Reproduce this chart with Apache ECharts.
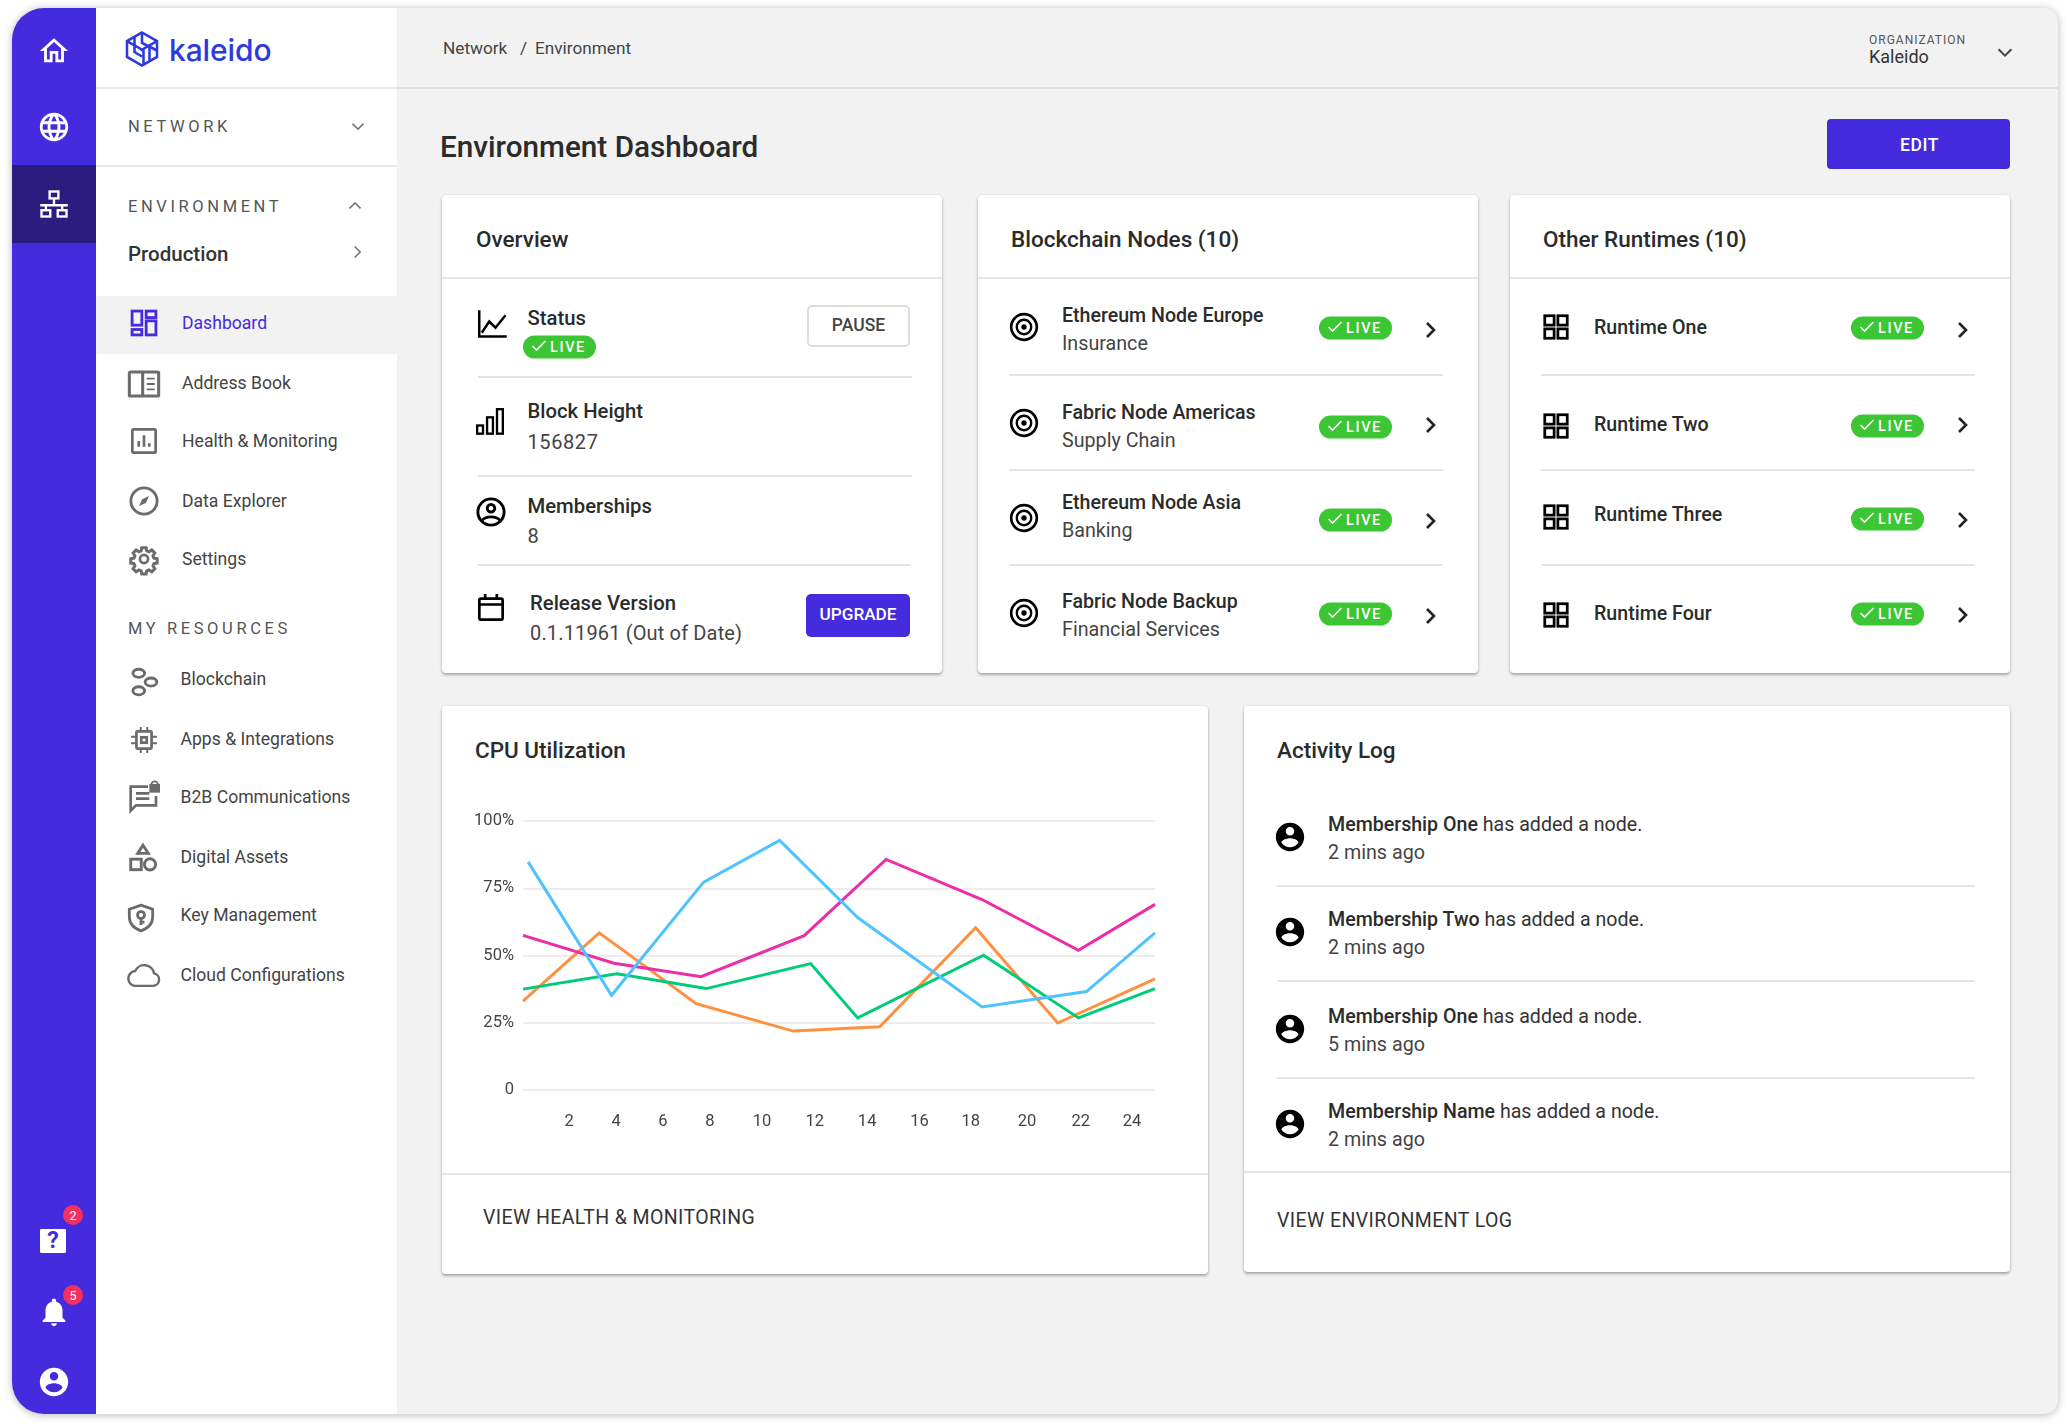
<!DOCTYPE html>
<html lang="en">
<head>
<meta charset="UTF-8">
<title>Environment Dashboard</title>
<script src="https://cdn.jsdelivr.net/npm/echarts@6/dist/echarts.min.js"></script>
<style>
html,body{margin:0;padding:0;background:#fff;width:2068px;height:1427px;overflow:hidden;font-family:Roboto,sans-serif;color:#222}
#frame{position:absolute;left:12px;top:8px;width:2046px;height:1406px;background:#f2f2f2;border-radius:32px 14px 14px 32px;overflow:hidden;box-shadow:0 1px 8px rgba(0,0,0,.28)}
.abs{position:absolute}
.t{position:absolute;white-space:nowrap;transform:translateY(-50%);line-height:1.2}
.card{position:absolute;background:#fff;border-radius:4px;box-shadow:0 2px 3px rgba(0,0,0,.3),0 0 3px rgba(0,0,0,.08)}
.hr{position:absolute;height:2px;background:#e4e4e4}
.pill{position:absolute;width:73px;height:23px;border-radius:12px;background:#3cc634;color:#fff;font-size:14.5px;font-weight:500;letter-spacing:1.6px;line-height:23px;transform:translateY(-50%)}
.pill svg{position:absolute;left:8px;top:2px}
.pill span{position:absolute;left:27px;top:0}
svg.ic{position:absolute;transform:translate(-50%,-50%);overflow:visible}
#cpuChart{position:absolute;left:442px;top:780px;width:766px;height:380px}
</style>
</head>
<body>
<div id="frame"></div>
<div id="page"></div>
<div id="cpuChart"></div>

<script>
// chart data
var yTicks = [0, 25, 50, 75, 100];
var xTickLabels = ['2', '4', '6', '8', '10', '12', '14', '16', '18', '20', '22', '24'];
var xTickPos = [2, 3.84, 5.67, 7.5, 9.54, 11.6, 13.65, 15.7, 17.7, 19.9, 22, 24];

var blueX = [0.4, 3.66, 7.26, 10.23, 13.28, 18.14, 22.22, 24.9];
var blueY = [84.8, 35.2, 77.3, 92.8, 64.1, 30.9, 36.6, 58.4];
var pinkX = [0.2, 3.76, 7.16, 11.19, 14.39, 18.14, 21.91, 24.9];
var pinkY = [57.5, 47.1, 42.1, 57.4, 85.7, 70.8, 51.9, 69.0];
var orangeX = [0.2, 3.18, 6.97, 10.76, 14.14, 17.89, 21.1, 24.9];
var orangeY = [33.0, 58.4, 32.1, 21.9, 23.5, 60.3, 24.9, 41.3];
var greenX = [0.2, 3.86, 7.36, 11.44, 13.28, 18.2, 21.91, 24.9];
var greenY = [37.5, 43.2, 37.7, 47.0, 26.8, 50.1, 26.8, 37.7];

// page text
var networkItems = ['Dashboard', 'Address Book', 'Health & Monitoring', 'Data Explorer', 'Settings'];
var resourceItems = ['Blockchain', 'Apps & Integrations', 'B2B Communications', 'Digital Assets', 'Key Management', 'Cloud Configurations'];
var nodeNames = ['Ethereum Node Europe', 'Fabric Node Americas', 'Ethereum Node Asia', 'Fabric Node Backup'];
var nodeTypes = ['Insurance', 'Supply Chain', 'Banking', 'Financial Services'];
var runtimeNames = ['Runtime One', 'Runtime Two', 'Runtime Three', 'Runtime Four'];
var logNames = ['Membership One', 'Membership Two', 'Membership One', 'Membership Name'];
var logTimes = ['2 mins ago', '2 mins ago', '5 mins ago', '2 mins ago'];

var page = document.getElementById('page');
var PURPLE = '#452bde', GREY = '#6b6b6b';

function box(x, y, w, h, css) {
    var d = document.createElement('div');
    d.className = 'abs';
    d.style.cssText = 'left:' + x + 'px;top:' + y + 'px;width:' + w + 'px;height:' + h + 'px;' + (css || '');
    page.appendChild(d);
    return d;
}
function text(x, y, s, css) {
    var d = document.createElement('div');
    d.className = 't';
    d.style.cssText = 'left:' + x + 'px;top:' + y + 'px;' + (css || '');
    d.textContent = s;
    page.appendChild(d);
    return d;
}
function line(x1, x2, y) {
    var d = document.createElement('div');
    d.className = 'hr';
    d.style.cssText = 'left:' + x1 + 'px;top:' + y + 'px;width:' + (x2 - x1) + 'px';
    page.appendChild(d);
}
function card(x, y, w, h) {
    var d = document.createElement('div');
    d.className = 'card';
    d.style.cssText = 'left:' + x + 'px;top:' + y + 'px;width:' + w + 'px;height:' + h + 'px';
    page.appendChild(d);
}
function icon(cx, cy, size, color, inner, vb, sw) {
    var wrap = document.createElement('div');
    wrap.innerHTML = '<svg class="ic" style="left:' + cx + 'px;top:' + cy + 'px" width="' + size + '" height="' + size +
        '" viewBox="' + (vb || '0 0 24 24') + '" fill="none" stroke="' + color + '" stroke-width="' + (sw || 2.3) + '">' + inner + '</svg>';
    page.appendChild(wrap.firstChild);
}
function fillPath(d, c) { return '<path stroke="none" fill="' + c + '" d="' + d + '"/>'; }
function pill(x, y) {
    var d = document.createElement('div');
    d.className = 'pill';
    d.style.left = x + 'px';
    d.style.top = y + 'px';
    d.innerHTML = '<svg width="16" height="16" viewBox="0 0 16 16" fill="none" stroke="#fff" stroke-width="1.6"><path d="M1.5 8.5l4 4 9-9"/></svg><span>LIVE</span>';
    page.appendChild(d);
}
function chevron(x, y, dir, size, color, sw) {
    var p = { r: 'M9 5l7 7-7 7', d: 'M5 9l7 7 7-7', u: 'M5 15l7-7 7 7' }[dir];
    icon(x, y, size, color, '<path d="' + p + '"/>', null, sw);
}

var HOME = 'M12 5.69l5 4.5V18h-2v-6H9v6H7v-7.81l5-4.5M12 3L2 12h3v8h6v-6h2v6h6v-8h3L12 3z';
var BELL = 'M12 22c1.1 0 2-.9 2-2h-4c0 1.1.9 2 2 2zm6-6v-5c0-3.07-1.63-5.64-4.5-6.32V4c0-.83-.67-1.5-1.5-1.5s-1.5.67-1.5 1.5v.68C7.64 5.36 6 7.92 6 11v5l-2 2v1h16v-1l-2-2z';
var USER = 'M12 2C6.48 2 2 6.48 2 12s4.48 10 10 10 10-4.48 10-10S17.52 2 12 2zm0 3c1.66 0 3 1.34 3 3s-1.34 3-3 3-3-1.34-3-3 1.34-3 3-3zm0 14.2c-2.5 0-4.71-1.28-6-3.22.03-1.99 4-3.08 6-3.08 1.99 0 5.97 1.09 6 3.08-1.29 1.94-3.5 3.22-6 3.22z';
var GLOBE = 'M11.99 2C6.47 2 2 6.48 2 12s4.47 10 9.99 10C17.52 22 22 17.52 22 12S17.52 2 11.99 2zm6.93 6h-2.95c-.32-1.25-.78-2.45-1.38-3.56 1.84.63 3.37 1.91 4.33 3.56zM12 4.04c.83 1.2 1.48 2.53 1.91 3.96h-3.82c.43-1.43 1.08-2.76 1.91-3.96zM4.26 14C4.1 13.36 4 12.69 4 12s.1-1.36.26-2h3.38c-.08.66-.14 1.32-.14 2 0 .68.06 1.34.14 2H4.26zm.82 2h2.95c.32 1.25.78 2.45 1.38 3.56-1.84-.63-3.37-1.9-4.33-3.56zm2.95-8H5.08c.96-1.66 2.49-2.93 4.33-3.56C8.81 5.55 8.35 6.75 8.03 8zM12 19.96c-.83-1.2-1.48-2.53-1.91-3.96h3.82c-.43 1.43-1.08 2.76-1.91 3.96zM14.34 14H9.66c-.09-.66-.16-1.32-.16-2 0-.68.07-1.35.16-2h4.68c.09.65.16 1.32.16 2 0 .68-.07 1.34-.16 2zm.25 5.56c.6-1.11 1.06-2.31 1.38-3.56h2.95c-.96 1.65-2.49 2.93-4.33 3.56zM16.36 14c.08-.66.14-1.32.14-2 0-.68-.06-1.34-.14-2h3.38c.16.64.26 1.31.26 2s-.1 1.36-.26 2h-3.38z';
var GRID = '<rect x="3" y="3" width="7.5" height="7.5"/><rect x="13.5" y="3" width="7.5" height="7.5"/><rect x="3" y="13.5" width="7.5" height="7.5"/><rect x="13.5" y="13.5" width="7.5" height="7.5"/>';
var TARGET = '<circle cx="12" cy="12" r="10.6" stroke-width="2.2"/><circle cx="12" cy="12" r="6" stroke-width="1.9"/><circle cx="12" cy="12" r="2.2" fill="#000" stroke="none"/>';

// rail + side panel
box(12, 8, 84, 1406, 'background:' + PURPLE + ';border-radius:32px 0 0 32px');
box(12, 165, 84, 78, 'background:#2d1c80');
box(96, 8, 301, 1406, 'background:#fff');
box(96, 87, 301, 2, 'background:#e8e8e8');
box(397, 87, 1661, 2, 'background:#dedede');
box(96, 165, 301, 2, 'background:#e8e8e8');
box(96, 296, 301, 58, 'background:#f2f2f2');

icon(54, 51, 34, '#fff', fillPath(HOME, '#fff'));
icon(54, 127, 34, '#fff', fillPath(GLOBE, '#fff'));
icon(54, 204, 30, '#fff', '<rect x="8.5" y="2" width="7" height="5.5"/><path d="M12 7.5v5M1 13h22M5.5 13v3.5M18.5 13v3.5"/><rect x="2" y="17" width="7" height="5"/><rect x="15" y="17" width="7" height="5"/>', null, 1.9);
icon(53, 1241, 26, '#fff', '<rect x="0" y="1" width="24" height="22" rx="1" fill="#fff" stroke="none"/>');
text(53, 1241, '?', 'transform:translate(-50%,-50%);font-size:23px;font-weight:700;color:' + PURPLE);
box(63, 1205, 20, 20, 'background:#f5305f;border-radius:10px');
text(73, 1215, '2', 'transform:translate(-50%,-50%);font-size:12.5px;color:#fff');
icon(54, 1312, 34, '#fff', fillPath(BELL, '#fff'));
box(63, 1285, 20, 20, 'background:#f5305f;border-radius:10px');
text(73, 1295, '5', 'transform:translate(-50%,-50%);font-size:12.5px;color:#fff');
icon(54, 1382, 34, '#fff', fillPath(USER, '#fff'));

// logo
icon(142, 49, 36, '#2b3be0', '<path d="M12 1l10 5.7v10.6L12 23 2 17.3V6.7z"/><path d="M2 6.7l11 6.3v10M22 6.7L11 13M12 1v7l10 5M7 4v10l5 3M17 20v-9"/>', null, 1.7);
text(169, 50, 'kaleido', 'font-family:Inter,sans-serif;font-size:30px;font-weight:500;color:#2b3be0;letter-spacing:-.1px');

var labelCss = 'font-size:16.5px;letter-spacing:3.6px;color:#555';
text(128, 127, 'NETWORK', labelCss);
chevron(358, 126, 'd', 19, '#777', 2);
text(128, 207, 'ENVIRONMENT', labelCss);
chevron(355, 206, 'u', 19, '#777', 2);
text(128, 254, 'Production', 'font-size:20.5px;font-weight:500;color:#333');
chevron(357, 252, 'r', 19, '#777', 2);
text(128, 629, 'MY RESOURCES', labelCss);

var netY = [324, 384, 442, 502, 560];
networkItems.forEach(function (s, i) {
    text(182, netY[i], s, 'font-size:17.6px;color:' + (i === 0 ? PURPLE : '#444'));
});
var resY = [680, 740, 798, 858, 916, 976];
resourceItems.forEach(function (s, i) {
    text(180.5, resY[i], s, 'font-size:17.6px;color:#444');
});

icon(144, 323, 26, PURPLE, '<rect x="1" y="1" width="9" height="13"/><rect x="14" y="1" width="9" height="6"/><rect x="1" y="18" width="9" height="5"/><rect x="14" y="10" width="9" height="13"/>', null, 2.6);
icon(144, 384, 32, GREY, '<rect x="1" y="3" width="22" height="18" rx="1"/><path d="M11 3v18"/><path d="M14 8h6M14 12h6M14 16h6" stroke-width="1.4"/>');
icon(144, 441, 28, GREY, '<rect x="2" y="2" width="20" height="20" rx="1"/><path d="M7.5 17v-5M12 17V7M16.5 17v-3"/>');
icon(144, 501, 30, GREY, '<circle cx="12" cy="12" r="10.5"/><path d="M16 8l-2.5 5.500L8 16l2.500-5.500z" fill="' + GREY + '" stroke="none"/>');
icon(144, 559, 28, GREY, '<circle cx="12" cy="12" r="3.5"/><path d="M10 1.5h4l.6 3 2.100.9 2.600-1.700 2.800 2.800-1.700 2.600.9 2.100 3 .6v4l-3 .6-.9 2.100 1.700 2.600-2.800 2.800-2.600-1.700-2.100.9-.6 3h-4l-.6-3-2.100-.9-2.600 1.700-2.800-2.800 1.700-2.600-.9-2.100-3-.6v-4l3-.6.9-2.100-1.700-2.600 2.800-2.800 2.600 1.700 2.100-.9z" transform="scale(.92) translate(1 1)" stroke-width="2.8"/>');

icon(144, 682, 28, GREY, '<ellipse cx="7.5" cy="4.5" rx="5" ry="3.5"/><ellipse cx="7.5" cy="19.500" rx="5" ry="3.5"/><ellipse cx="18" cy="12" rx="5" ry="3.5"/>', null, 2.5);
icon(144, 740, 26, GREY, '<rect x="5" y="4" width="14" height="16" rx="1"/><rect x="9.5" y="9.5" width="5" height="5"/><path d="M0 9h5M0 15h5M19 9h5M19 15h5M9 0v4M15 0v4M9 20v4M15 20v4" stroke-width="1.8"/>', null, 2.5);
icon(144, 796, 32, GREY, '<path d="M15 5H2v18l4-4h15v-7"/><path d="M6 10h10M6 14h10"/><rect x="16" y="3" width="8" height="6.5" fill="' + GREY + '" stroke="none"/><path d="M17.5 3.5a2.5 2.5 0 015 0" stroke-width="1.4"/>', null, 2);
icon(143, 858, 28, GREY, '<path d="M12 1l4.5 7h-9z"/><rect x="1.5" y="13" width="9" height="9"/><circle cx="18" cy="17.5" r="4.8"/>', null, 2.5);
icon(141, 918, 28, GREY, '<path d="M12 1l10 3.5V11c0 6-4 10-10 12C6 21 2 17 2 11V4.500z"/><circle cx="12" cy="9.5" r="3"/><path d="M12 12.5V18M12 15.5h3"/>', null, 2.4);
icon(143, 976, 34, GREY, '<path d="M6 19h13a4.5 4.5 0 00.8-8.900A7 7 0 006.500 8.500 5.300 5.300 0 006 19z"/>', null, 1.7);

// top bar
text(443, 47.5, 'Network', 'font-size:17.2px;color:#444');
text(520, 47.5, '/', 'font-size:17.2px;color:#444');
text(535, 47.5, 'Environment', 'font-size:17.2px;color:#444');
text(1869, 40, 'ORGANIZATION', 'font-size:12px;letter-spacing:1px;color:#555');
text(1869, 57, 'Kaleido', 'font-size:18px;color:#333');
chevron(2005, 52, 'd', 22, '#444', 2.2);

text(440, 146.5, 'Environment Dashboard', 'font-size:29.7px;font-weight:500;color:#2b2b2b');
box(1827, 119, 183, 50, 'background:' + PURPLE + ';border-radius:4px');
text(1919.5, 144.5, 'EDIT', 'transform:translate(-50%,-50%);font-size:17.5px;font-weight:500;letter-spacing:.6px;color:#fff');

// cards
[[442, 500], [978, 500], [1510, 500]].forEach(function (c) {
    card(c[0], 195, c[1], 478);
    line(c[0], c[0] + c[1], 277);
});
card(442, 706, 766, 568);
line(442, 1208, 1173);
card(1244, 706, 766, 566);
line(1244, 2010, 1171);

var titleCss = 'font-size:22.5px;font-weight:500;color:#2b2b2b';
text(476, 239, 'Overview', titleCss);
text(1011, 239, 'Blockchain Nodes (10)', titleCss);
text(1543, 239, 'Other Runtimes (10)', titleCss);
text(475, 750, 'CPU Utilization', titleCss);
text(1277, 750, 'Activity Log', titleCss);

// overview card
var boldCss = 'font-size:20.3px;font-weight:500;color:#2b2b2b';
var subCss = 'font-size:20px;color:#444;letter-spacing:.6px';
text(527.5, 318, 'Status', boldCss);
pill(523, 347);
box(807, 305, 103, 42, 'box-sizing:border-box;border:2px solid #ddd;border-radius:5px;background:#fff');
text(858.5, 325, 'PAUSE', 'transform:translate(-50%,-50%);font-size:17.5px;font-weight:500;color:#444');
line(478, 912, 376);
text(527.5, 411, 'Block Height', boldCss);
text(527.5, 442, '156827', subCss);
line(478, 912, 475);
text(527.5, 506, 'Memberships', boldCss);
text(527.5, 536, '8', subCss);
line(477, 911, 564);
text(530, 603, 'Release Version', boldCss);
text(530, 633, '0.1.11961 (Out of Date)', 'font-size:20px;color:#444;letter-spacing:.15px');
box(806, 594, 104, 43, 'background:' + PURPLE + ';border-radius:5px');
text(858, 614, 'UPGRADE', 'transform:translate(-50%,-50%);font-size:17.2px;font-weight:500;color:#fff');

icon(493, 324, 30, '#000', '<path d="M1 1v21h22" stroke-width="2"/><path d="M3 19l6-9 5 5 8-10" stroke-width="2"/>');
icon(490, 422, 28, '#000', '<rect x="1" y="15" width="5" height="7"/><rect x="9.5" y="8" width="5" height="14"/><rect x="18" y="1" width="5" height="21"/>', null, 2);
icon(491, 512, 30, '#000', '<circle cx="12" cy="12" r="10.5"/><circle cx="12" cy="9" r="3"/><path d="M5 18.5c3-3.5 11-3.5 14 0"/>');
icon(491, 608, 28, '#000', '<rect x="2" y="4" width="20" height="18" rx="1.5"/><path d="M2 9h20M7 0v4M17 0v4"/>');

// blockchain nodes and runtimes
var nameY = [316, 413, 503, 602];
var typeY = [344, 441, 531, 630];
var iconY = [327, 423, 518, 613];
var pillY = [328, 427, 520, 614];
var chevY = [330, 425, 521, 616];
nodeNames.forEach(function (s, i) {
    text(1062, nameY[i], s, 'font-size:19.6px;font-weight:500;color:#2b2b2b');
    text(1062, typeY[i], nodeTypes[i], 'font-size:19.7px;color:#444');
    icon(1024, iconY[i], 29, '#000', TARGET);
    pill(1319, pillY[i]);
    chevron(1430, chevY[i], 'r', 24, '#222', 2.6);
});
[374, 469, 564].forEach(function (y) { line(1009, 1443, y); line(1541, 1975, y); });

var rtY = [328, 425, 515, 614];
var rtIcon = [327, 426, 517, 615];
var rtPill = [328, 426, 519, 614];
var rtChev = [330, 425, 520, 615];
runtimeNames.forEach(function (s, i) {
    text(1594, rtY[i], s, 'font-size:19.6px;font-weight:500;color:#2b2b2b');
    icon(1555.5, rtIcon[i], 30, '#000', GRID, null, 2.2);
    pill(1851, rtPill[i]);
    chevron(1962, rtChev[i], 'r', 24, '#222', 2.6);
});

// activity log
var logY = [825, 920, 1017, 1112];
var logSub = [853, 948, 1045, 1140];
var logIcon = [837, 932, 1029, 1124];
logNames.forEach(function (s, i) {
    var d = text(1328, logY[i], '', 'font-size:19.6px;color:#333');
    d.innerHTML = '<span style="font-weight:500;color:#2b2b2b">' + s + '</span> has added a node.';
    text(1328, logSub[i], logTimes[i], 'font-size:19.7px;color:#444');
    icon(1290, logIcon[i], 34, '#000', fillPath(USER, '#000'));
});
[885, 980, 1077].forEach(function (y) { line(1277, 1975, y); });

var linkCss = 'font-size:19.5px;color:#333;letter-spacing:.4px';
text(483, 1218, 'VIEW HEALTH & MONITORING', linkCss);
text(1277, 1220.5, 'VIEW ENVIRONMENT LOG', linkCss);

// the chart
var myChart = echarts.init(document.getElementById('cpuChart'));

function lineSeries(name, xs, ys, color) {
    return {
        name: name,
        type: 'line',
        symbol: 'none',
        animation: false,
        lineStyle: { color: color, width: 3, join: 'miter' },
        data: xs.map(function (x, i) { return [x, ys[i]]; })
    };
}

var option = {
    animation: false,
    grid: { left: 81, right: 53, top: 41, bottom: 70 },
    xAxis: {
        type: 'value',
        min: 0.2,
        max: 24.9,
        splitLine: { show: false },
        axisLine: { show: false },
        axisTick: { show: false },
        axisLabel: {
            customValues: xTickPos,
            margin: 23,
            fontFamily: 'Roboto',
            fontSize: 16.5,
            color: '#444',
            formatter: function (v) {
                return xTickLabels[xTickPos.indexOf(v)];
            }
        }
    },
    yAxis: {
        type: 'value',
        min: yTicks[0],
        max: yTicks[yTicks.length - 1],
        interval: 25,
        axisLine: { show: false },
        axisTick: { show: false },
        splitLine: { lineStyle: { color: '#e6e6e6', width: 1.5 } },
        axisLabel: {
            margin: 9,
            padding: [4, 0, 0, 0],
            fontFamily: 'Roboto',
            fontSize: 16.5,
            color: '#444',
            formatter: function (v) { return v === 0 ? '0' : v + '%'; }
        }
    },
    series: [
        lineSeries('Orange', orangeX, orangeY, '#ff9040'),
        lineSeries('Pink', pinkX, pinkY, '#ec2da8'),
        lineSeries('Green', greenX, greenY, '#00cc78'),
        lineSeries('Blue', blueX, blueY, '#4fc3ff')
    ]
};

option && myChart.setOption(option);
</script>
</body>
</html>
